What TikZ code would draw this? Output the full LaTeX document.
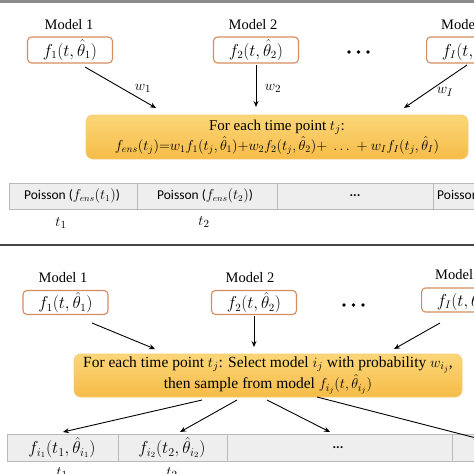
\documentclass[tikz,border=0pt]{standalone}
\usepackage{fontspec}
\setmainfont{Liberation Serif}
\newfontfamily\cellfont{Carlito}
\usetikzlibrary{arrows.meta}
\definecolor{boxor}{RGB}{214,140,96}
\definecolor{yelt}{RGB}{252,214,120}
\definecolor{yeld}{RGB}{246,188,72}
\definecolor{yelb}{RGB}{244,204,120}
\definecolor{cellf}{RGB}{238,238,238}
\definecolor{cellb}{RGB}{185,185,185}
\definecolor{topline}{RGB}{140,140,140}
\definecolor{midline}{RGB}{70,70,70}
\begin{document}
\begin{tikzpicture}[x=1pt,y=-1pt,
  model/.style={draw=boxor, line width=1.1pt, rounded corners=4pt, fill=white,
    minimum width=85pt, minimum height=26pt, inner sep=0pt, font=\fontsize{16}{18}\selectfont},
  lbl/.style={inner sep=0pt, font=\fontsize{14.5}{16}\selectfont},
  mth/.style={inner sep=0pt, font=\fontsize{15}{17}\selectfont},
  wlbl/.style={inner sep=0pt, font=\fontsize{15}{16}\selectfont},
  yel/.style={draw=yelb, line width=0.8pt, rounded corners=7pt, top color=yelt, bottom color=yeld,
    align=center, inner sep=0pt, font=\fontsize{15}{18}\selectfont},
  cell/.style={draw=cellb, fill=cellf, line width=1pt},
  celltxt/.style={inner sep=0pt, font=\cellfont\fontsize{13.5}{15}\selectfont},
  arr/.style={-{Stealth[length=6pt,width=5pt]}, line width=0.9pt},
  dot/.style={fill=black},
]
\useasboundingbox (0,0) rectangle (474,474);
\clip (0,0) rectangle (474,474);
% top rule
\draw[topline, line width=3pt] (0,1) -- (474,1);
% ---------------- top panel ----------------
\node[lbl] (ml1) at (69,25) {Model 1};
\node[lbl] (ml2) at (253,25) {Model 2};
\node[lbl, anchor=west] (ml3) at (441,25) {Model $I$};
\node[model] (b1) at (70,50) {$f_1(t,\hat{\theta}_1)$};
\node[model] (b2) at (256,50) {$f_2(t,\hat{\theta}_2)$};
\node[model, anchor=west] (b3) at (426,50) {$f_I(t,\hat{\theta}_I)$};
\fill[dot] (349,52) circle (1.8) (358.5,52) circle (1.8) (368,52) circle (1.8);
\node[yel, minimum width=382pt, minimum height=44pt] (y1) at (277,137)
  {For each time point $t_j$:\\[1pt]
   {\fontsize{14.5}{17}\selectfont$f_{ens}(t_j)\mathord{=}w_1f_1(t_j,\hat{\theta}_1)\mathord{+}w_2f_2(t_j,\hat{\theta}_2)\mathord{+}\ \dots\ +w_If_I(t_j,\hat{\theta}_I)$}};
\coordinate (a1s) at (85,67);  \coordinate (a1e) at (156,108);
\coordinate (a2s) at (256,65); \coordinate (a2e) at (256,107);
\coordinate (a3s) at (467,65); \coordinate (a3e) at (404,108);
\draw[arr] (a1s) -- (a1e);
\draw[arr] (a2s) -- (a2e);
\draw[arr] (a3s) -- (a3e);
\node[wlbl] (w1) at (143,88) {$w_1$};
\node[wlbl] (w2) at (273,88) {$w_2$};
\node[wlbl] (w3) at (445,92) {$w_I$};
% table top
\draw[cell] (9,183) rectangle (137,209);
\draw[cell] (137,183) rectangle (277,209);
\draw[cell] (277,183) rectangle (433,209);
\draw[cell] (433,183) rectangle (570,209);
\node[celltxt] (c1) at (72,196) {Poisson ($f_{ens}(t_1)$)};
\node[celltxt] (c2) at (205,196) {Poisson ($f_{ens}(t_2)$)};
\node[celltxt] (c3) at (355,196) {\textbf{...}};
\node[celltxt, anchor=west] (c4) at (437,196) {Poisson ($f_{ens}(t_I)$)};
\node[mth] (t1) at (61,223) {$t_1$};
\node[mth] (t2) at (204,222) {$t_2$};
% separator
\draw[midline, line width=1.5pt] (0,245) -- (474,245);
% ---------------- bottom panel ----------------
\node[lbl] (nl1) at (63,278) {Model 1};
\node[lbl] (nl2) at (250,278) {Model 2};
\node[lbl, anchor=west] (nl3) at (435,275) {Model $I$};
\node[model, minimum height=24pt] (d1) at (65.5,302.5) {$f_1(t,\hat{\theta}_1)$};
\node[model, minimum height=24pt] (d2) at (254,302.5) {$f_2(t,\hat{\theta}_2)$};
\node[model, minimum height=24pt, anchor=west] (d3) at (421,300) {$f_I(t,\hat{\theta}_I)$};
\fill[dot] (344,305) circle (1.8) (353.5,305) circle (1.8) (363,305) circle (1.8);
\node[yel, minimum width=388pt, minimum height=43pt, font=\fontsize{15.5}{19}\selectfont] (y2) at (268,375.5)
  {For each time point $t_j$: Select model $i_j$ with probability $w_{i_j}$,\\[1pt]
   then sample from model $f_{i_j}(t,\hat{\theta}_{i_j})$};
\coordinate (b1s) at (92,323);  \coordinate (b1e) at (155,349);
\coordinate (b2s) at (254,316); \coordinate (b2e) at (254,347);
\coordinate (b3s) at (440,323); \coordinate (b3e) at (394,349);
\draw[arr] (b1s) -- (b1e);
\draw[arr] (b2s) -- (b2e);
\draw[arr] (b3s) -- (b3e);
% table bottom
\draw[cell] (7,434) rectangle (118,461);
\draw[cell] (118,434) rectangle (227,461);
\draw[cell] (227,434) rectangle (452,461);
\draw[cell] (452,434) rectangle (570,461);
\node[mth, font=\fontsize{16.5}{18}\selectfont] (e1) at (62,447.5) {$f_{i_1}(t_1,\hat{\theta}_{i_1})$};
\node[mth, font=\fontsize{16.5}{18}\selectfont] (e2) at (172,447.5) {$f_{i_2}(t_2,\hat{\theta}_{i_2})$};
\node[celltxt] (e3) at (338,448) {\textbf{...}};
\coordinate (s1) at (202,400); \coordinate (s1e) at (63,432);
\coordinate (s2) at (237,400); \coordinate (s2e) at (180,432);
\coordinate (s3) at (267,400); \coordinate (s3e) at (330,432);
\coordinate (s4) at (317,397); \coordinate (s4e) at (480,439);
\draw[arr] (s1) -- (s1e);
\draw[arr] (s2) -- (s2e);
\draw[arr] (s3) -- (s3e);
\draw[arr] (s4) -- (s4e);
\node[mth] (u1) at (62,473) {$t_1$};
\node[mth] (u2) at (172,473) {$t_2$};
\end{tikzpicture}
\end{document}
